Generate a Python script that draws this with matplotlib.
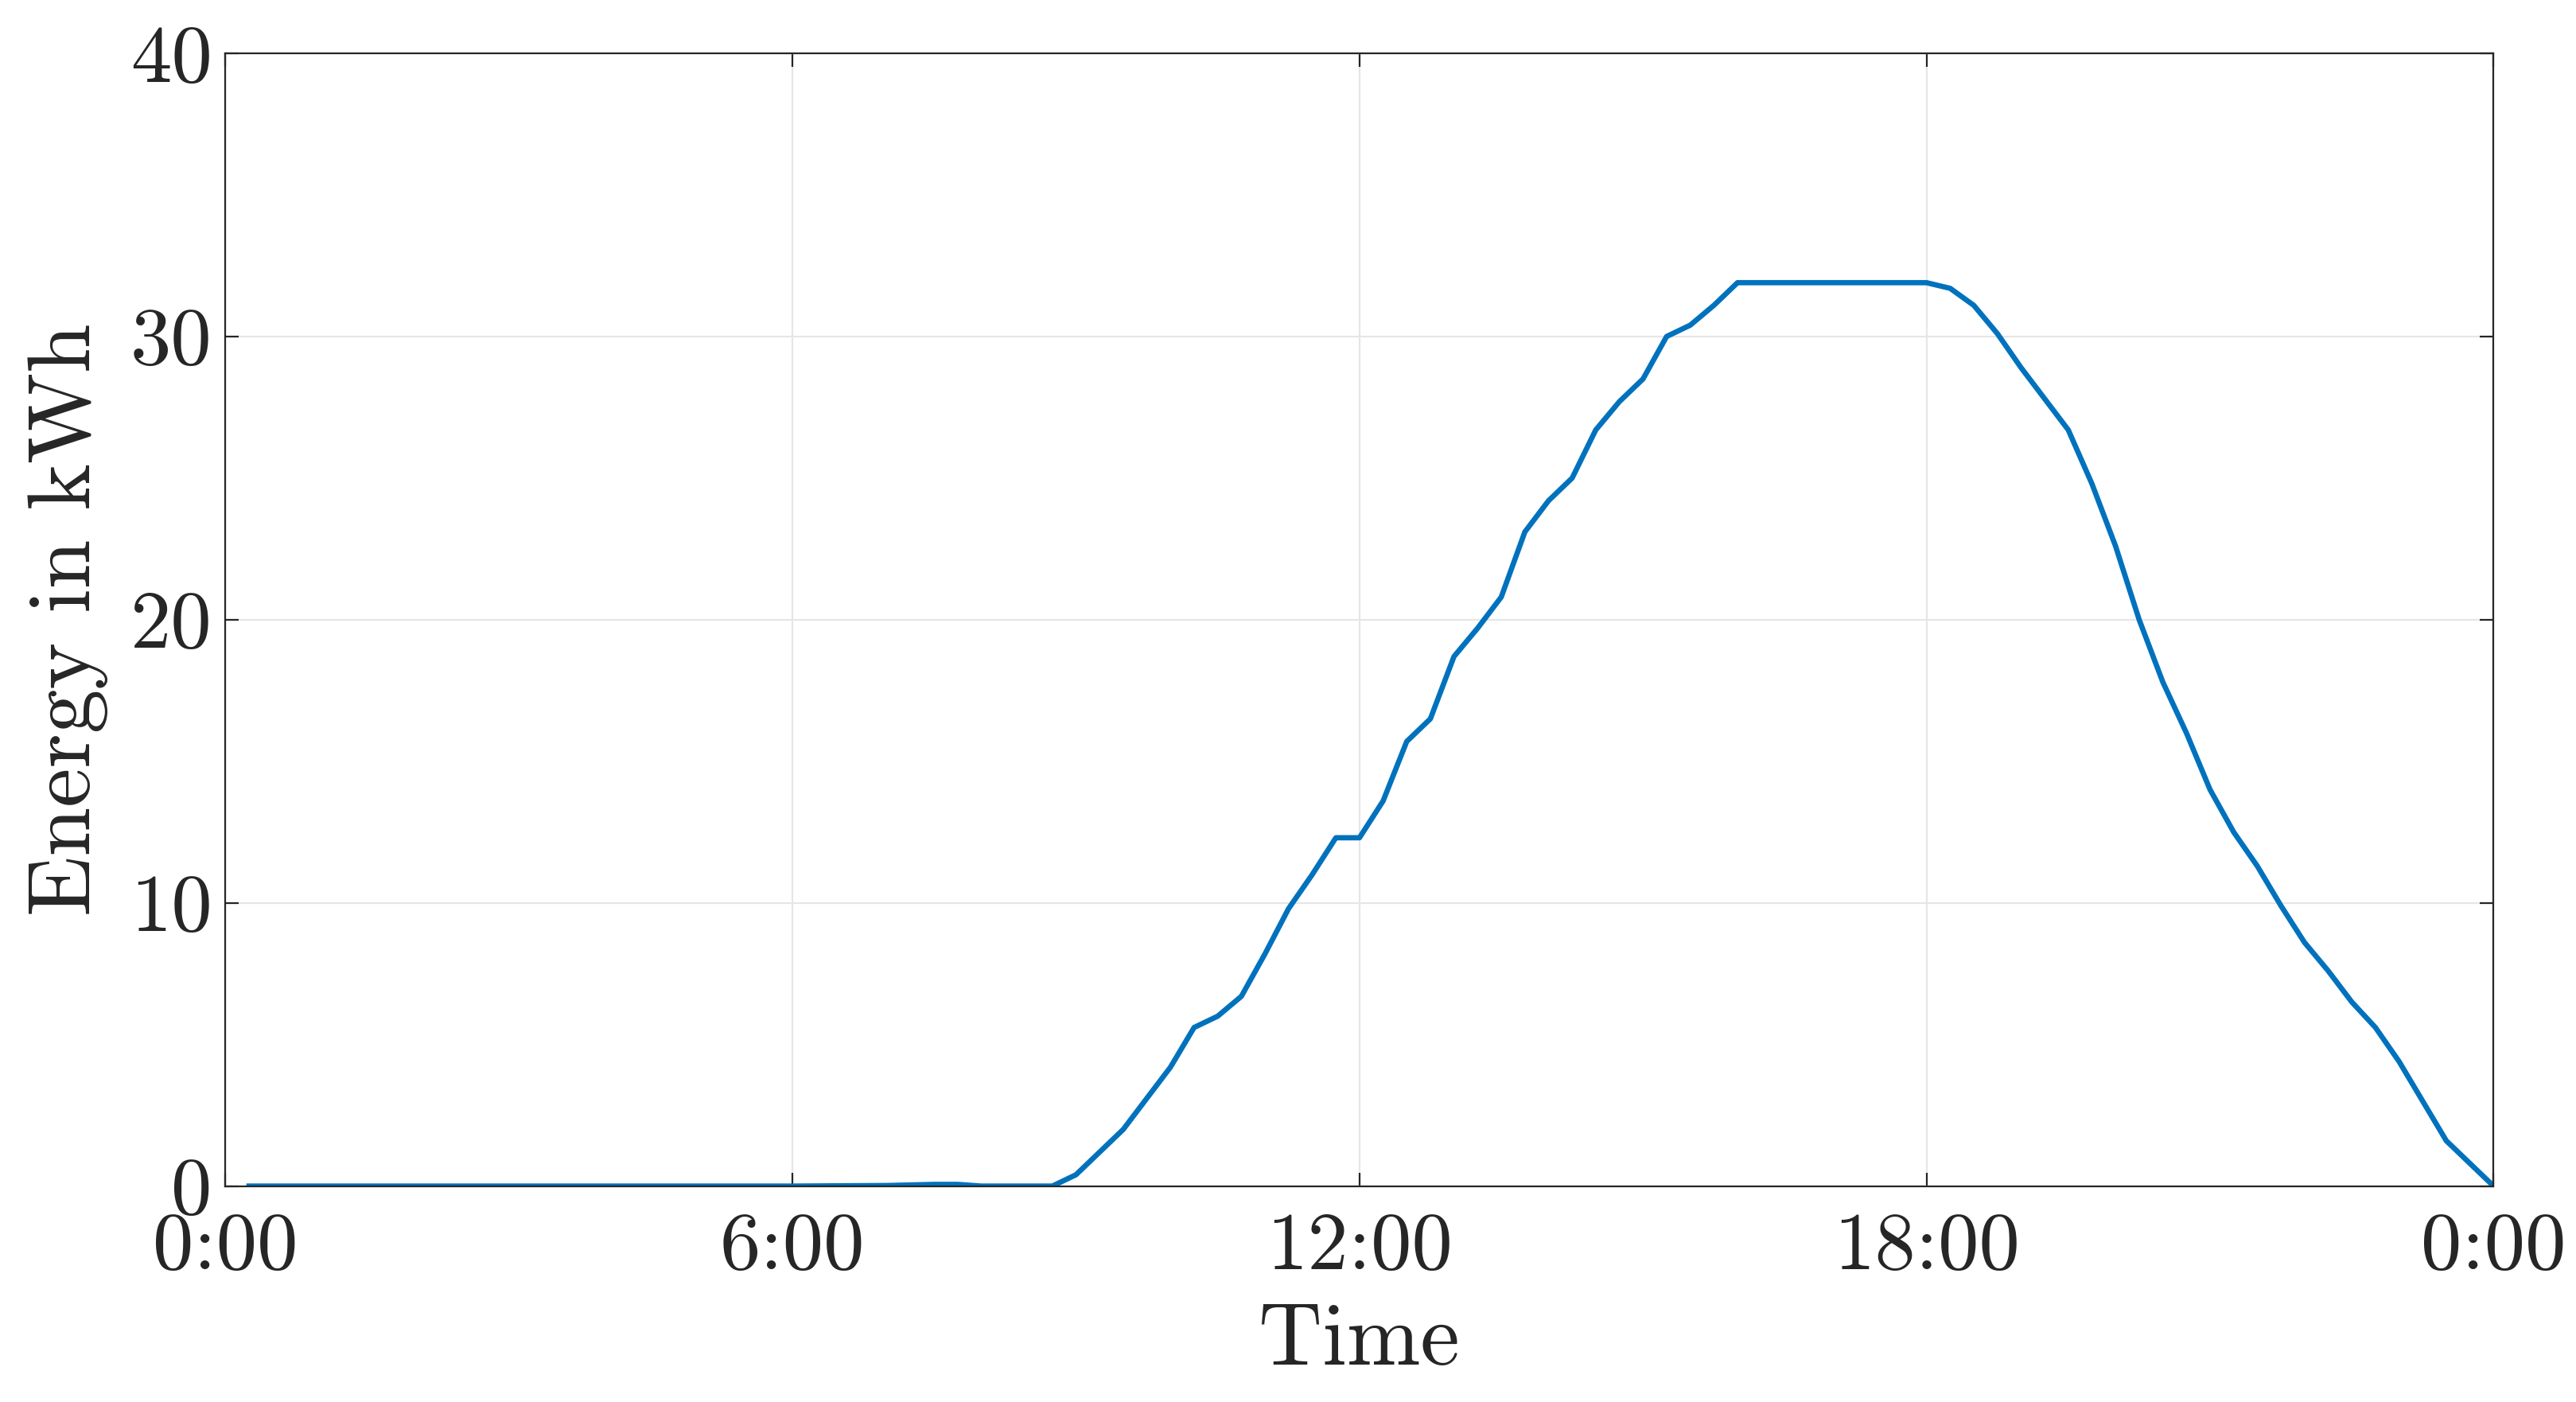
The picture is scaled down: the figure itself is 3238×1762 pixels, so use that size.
import matplotlib
matplotlib.use("Agg")
import matplotlib.pyplot as plt

hours = [0.25, 6.0, 7.0, 7.5, 7.75, 8.0, 8.75, 9.0, 9.25, 9.5, 9.75, 10.0, 10.25, 10.5, 10.75, 11.0, 11.25,
         11.5, 11.75, 12.0, 12.25, 12.5, 12.75, 13.0, 13.25, 13.5, 13.75, 14.0, 14.25, 14.5, 14.75,
         15.0, 15.25, 15.5, 15.75, 16.0, 18.0, 18.25, 18.5, 18.75, 19.0, 19.25, 19.5, 19.75, 20.0,
         20.25, 20.5, 20.75, 21.0, 21.25, 21.5, 21.75, 22.0, 22.25, 22.5, 22.75, 23.0, 23.25, 23.5,
         23.75, 24.0]
energy = [0, 0, 0.02, 0.06, 0.06, 0, 0, 0.4, 1.2, 2.0, 3.1, 4.2, 5.6, 6.0, 6.7, 8.2, 9.8,
          11.0, 12.3, 12.3, 13.6, 15.7, 16.5, 18.7, 19.7, 20.8, 23.1, 24.2, 25.0, 26.7, 27.7,
          28.5, 30.0, 30.4, 31.1, 31.9, 31.9, 31.7, 31.1, 30.1, 28.9, 27.8, 26.7, 24.8, 22.6,
          20.0, 17.8, 16.0, 14.0, 12.5, 11.3, 9.9, 8.6, 7.6, 6.5, 5.6, 4.4, 3.0, 1.6,
          0.8, 0]
xticks = [0, 6, 12, 18, 24]
xticklabels = ["0:00", "6:00", "12:00", "18:00", "0:00"]
yticks = [0, 10, 20, 30, 40]

plt.rcParams['font.family'] = ['cmr10']
plt.rcParams['axes.formatter.use_mathtext'] = True

fig = plt.figure(figsize=(16.19, 8.81), dpi=200)
ax = fig.add_axes([0.0875, 0.154, 0.8805, 0.808])
ax.plot(hours, energy, color='#0072BD', lw=2.4)
ax.set_xlim(0, 24)
ax.set_ylim(0, 40)
ax.set_xticks(xticks)
ax.set_xticklabels(xticklabels)
ax.set_yticks(yticks)
ax.set_yticklabels([str(v) for v in yticks])
ax.grid(True, color='#e6e6e6', lw=0.8)
ax.set_axisbelow(True)
ax.tick_params(direction='in', top=True, right=True, labelsize=37, colors='#262626', length=6, width=0.8)
ax.tick_params(axis='x', pad=12)
ax.tick_params(axis='y', pad=6)
for s in ax.spines.values():
    s.set_color('#262626'); s.set_linewidth(0.8)
ax.set_xlabel('Time', fontsize=40, color='#262626', labelpad=8)
ax.set_ylabel('Energy in kWh', fontsize=40, color='#262626', labelpad=10)
fig.savefig('out.png', dpi=200)
